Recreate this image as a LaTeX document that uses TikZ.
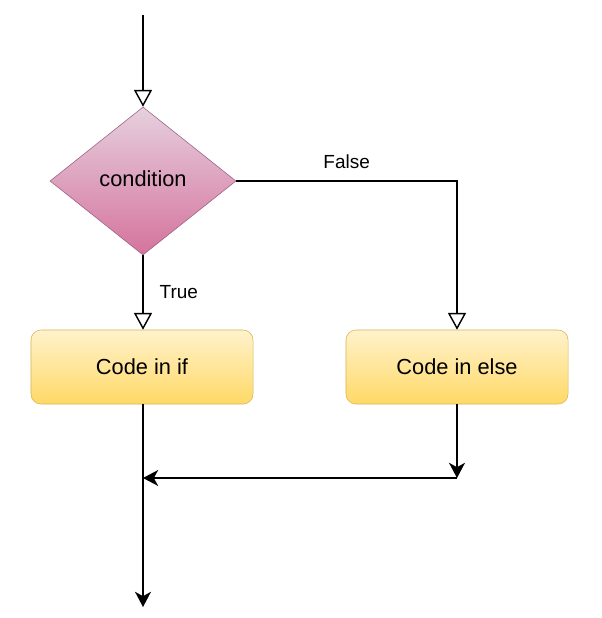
\documentclass[tikz,border=0pt]{standalone}
\usepackage{fontspec}
\setmainfont{Liberation Sans}
\usetikzlibrary{shapes.geometric, arrows.meta}
\definecolor{cond-top}{HTML}{E6D0DE}
\definecolor{cond-bottom}{HTML}{D5739D}
\definecolor{cond-line}{HTML}{996185}
\definecolor{code-top}{HTML}{FFF2CC}
\definecolor{code-bottom}{HTML}{FFD966}
\definecolor{code-line}{HTML}{D6B656}

\tikzset{
  decision/.style={diamond, draw=cond-line, top color=cond-top, bottom color=cond-bottom,
    minimum width=4.65cm, minimum height=3.7cm, aspect=1.26, inner sep=0pt,
    font=\fontsize{15.5}{18}\selectfont},
  codebox/.style={draw=code-line, top color=code-top, bottom color=code-bottom,
    rounded corners=0.25cm, minimum width=5.55cm, minimum height=1.85cm,
    font=\fontsize{15.5}{18}\selectfont},
  openarrow/.style={line width=1pt, -{Triangle[open, length=0.42cm, width=0.45cm]}},
  solidarrow/.style={line width=1pt, -{Stealth[length=0.38cm, width=0.4cm, inset=0.11cm]}},
  branchlabel/.style={font=\fontsize{13.5}{16}\selectfont}
}

\begin{document}
\begin{tikzpicture}[x=0.025cm, y=-0.025cm]
    \useasboundingbox (0,0) rectangle (602,618);
    % nodes
    \coordinate (start) at (143,15);
    \node[decision] (cond) at (143,181) {\raisebox{3pt}{condition}};
    \node[codebox] (ifcode) at (142,367) {Code in if};
    \node[codebox] (elsecode) at (457,367) {Code in else};
    \coordinate (merge) at (457,478);
    \coordinate (join) at (143,478);
    \coordinate (end) at (143,607);
    % connectors
    \draw[openarrow] (start) -- (cond.north);
    \draw[openarrow] (cond.south) -- node[midway, right=8pt, branchlabel] {True} (ifcode.north -| cond.south);
    \draw[openarrow] (cond.east) -| node[pos=0.25, above=5pt, branchlabel] {False} (elsecode.north);
    \draw[solidarrow] (elsecode.south) -- (merge);
    \draw[solidarrow] (merge) -- (join);
    \draw[solidarrow] (ifcode.south -| join) -- (end);
  \end{tikzpicture}
\end{document}
